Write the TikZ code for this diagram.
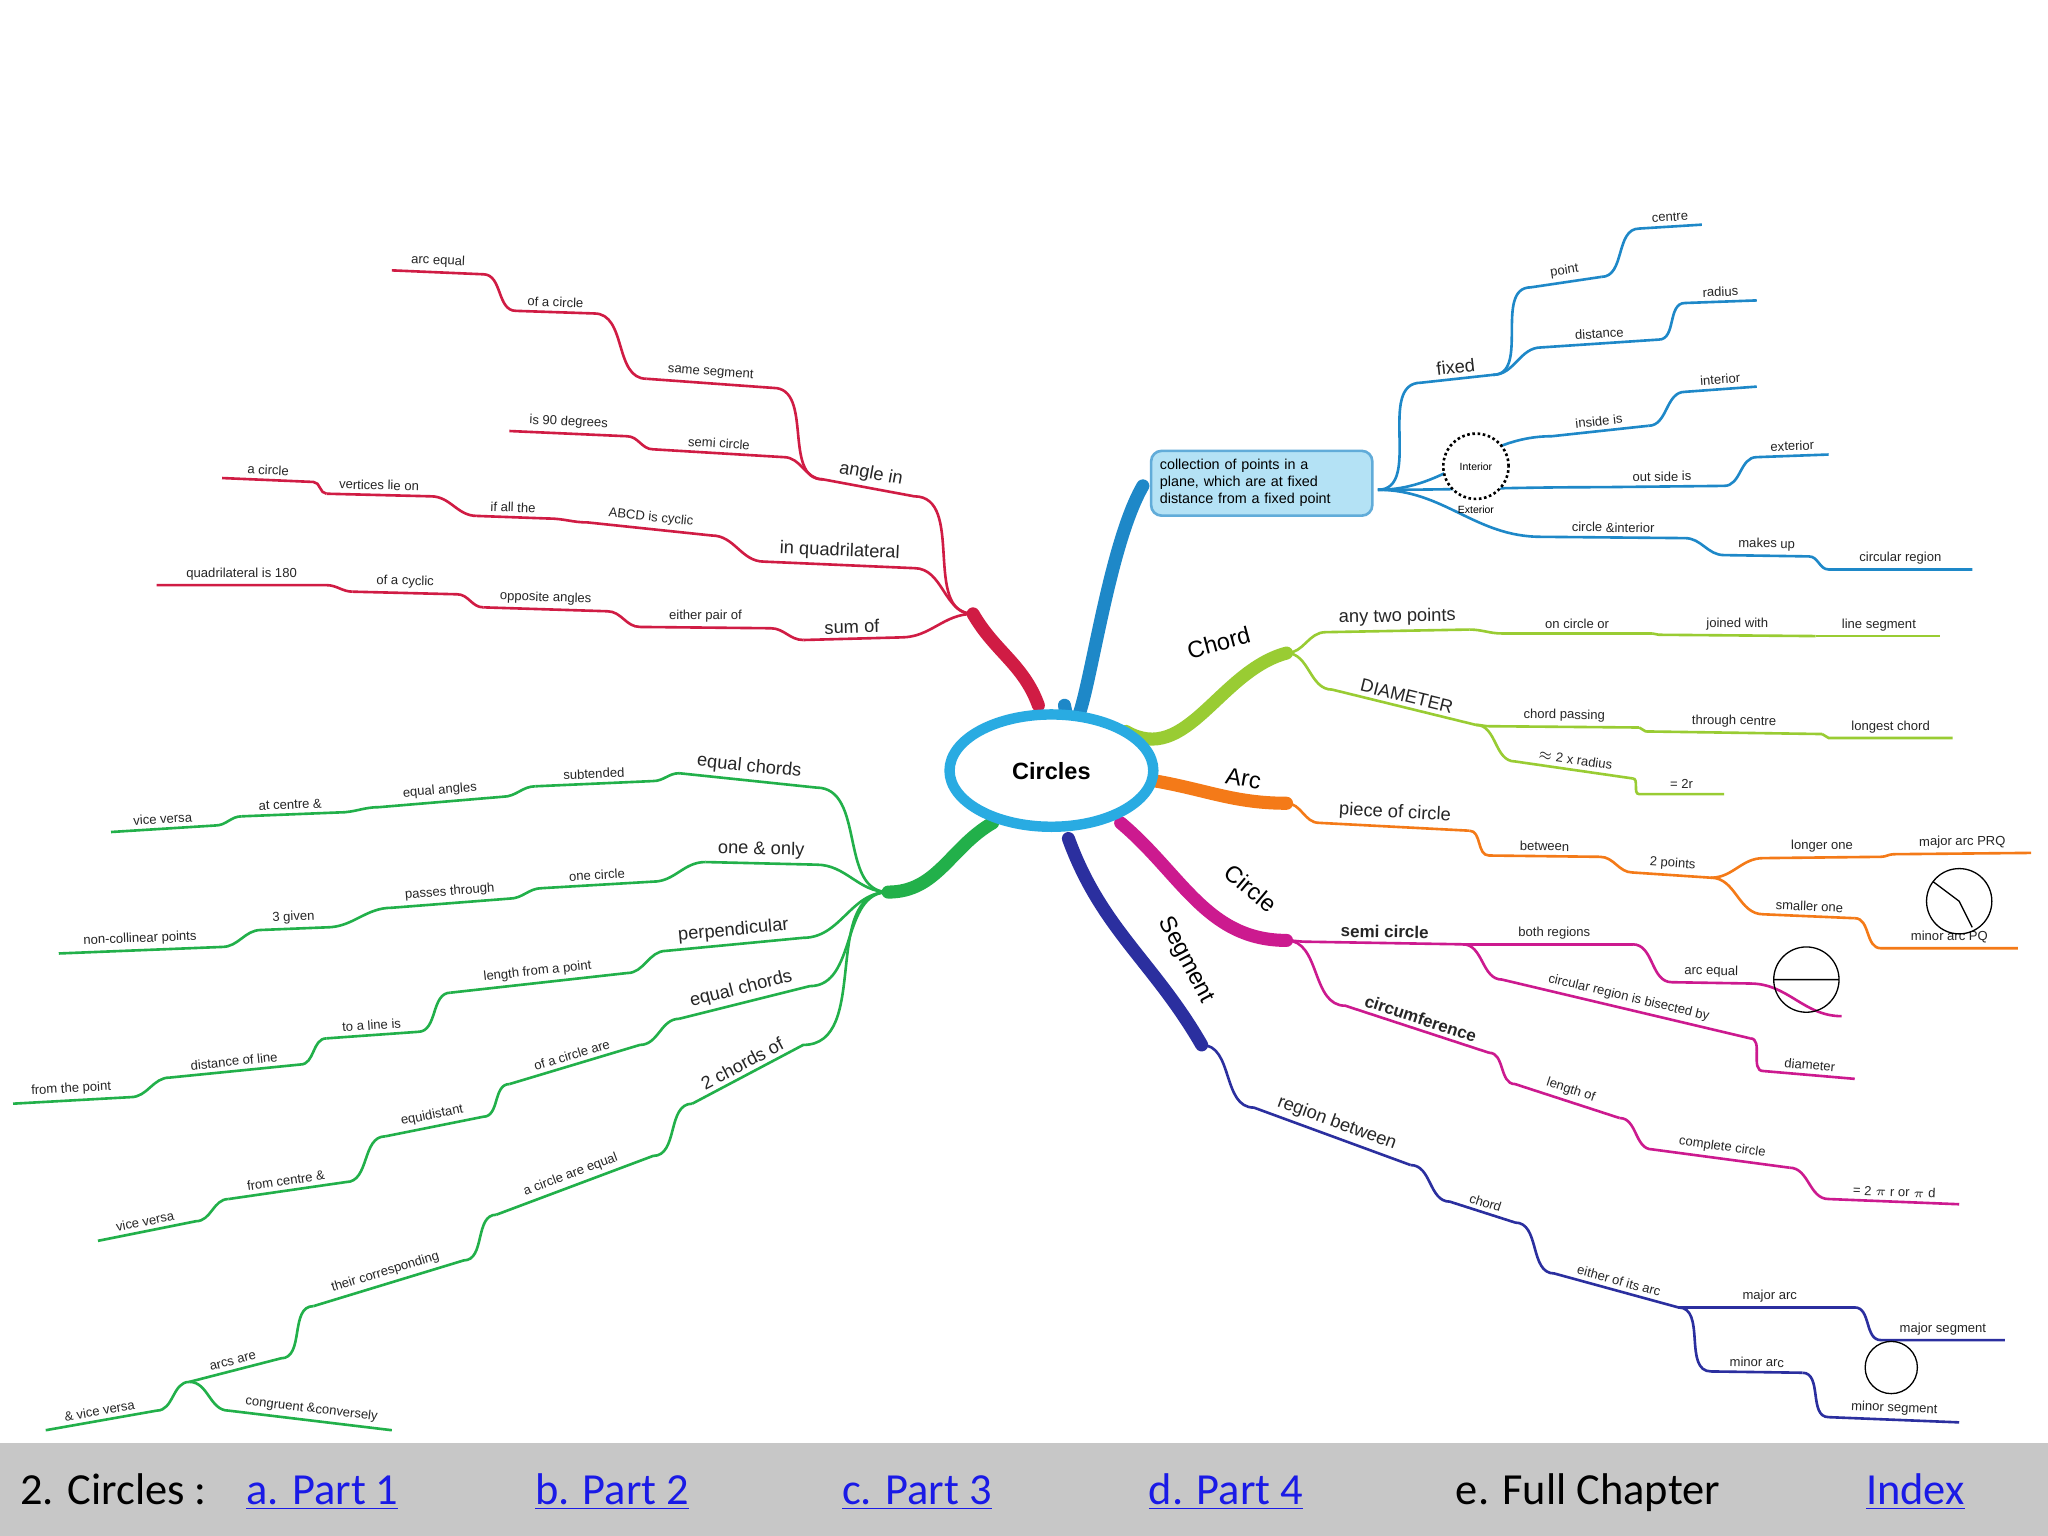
\documentclass[tikz,border=0pt]{standalone}
\usepackage{fontspec}
\setmainfont{Liberation Sans}
\newfontfamily\foot{Carlito}
\usetikzlibrary{calc,shapes.geometric}
\definecolor{cblue}{HTML}{1E88C8}
\definecolor{cgreen}{HTML}{99CC33}
\definecolor{corange}{HTML}{F47A18}
\definecolor{cmag}{HTML}{CC1A8F}
\definecolor{cnavy}{HTML}{2B2F9F}
\definecolor{cred}{HTML}{D01C44}
\definecolor{cgr}{HTML}{22B04A}
\definecolor{ccyan}{HTML}{29ABE2}
\definecolor{lnk}{HTML}{1A1AE6}
\tikzset{lab/.style={above,sloped,inner sep=1.5pt,font=\fontsize{5}{6}\selectfont,text=black!85},
 mid/.style={font=\fontsize{7}{8}\selectfont},
 big/.style={font=\fontsize{9}{10}\selectfont},
 trunk/.style={line width=5pt,line cap=round}}
\newcommand\R[5][]{\draw (#2) to[out=0,in=180] (#3) -- node[lab,#1]{#5} (#4);}
\newcommand\Lf[5][]{\draw (#4) -- node[lab,#1]{#5} (#3) to[out=0,in=180] (#2);}
\begin{document}
\begin{tikzpicture}[x=0.5pt,y=-0.5pt,line width=1pt]
\useasboundingbox (0,0) rectangle (1568,1176);
\fill[white] (0,0) rectangle (1568,1176);
% footer
\fill[black!22] (0,1105) rectangle (1568,1176);
\begin{scope}[font=\foot\fontsize{17}{20}\selectfont,anchor=base west]
\node (f0) at (8,1152) {2. Circles :};
\node[text=lnk] (f1) at (181,1152) {\underline{a. Part 1}};
\node[text=lnk] (f2) at (402,1152) {\underline{b. Part 2}};
\node[text=lnk] (f3) at (637,1152) {\underline{c. Part 3}};
\node[text=lnk] (f4) at (872,1152) {\underline{d. Part 4}};
\node (f5) at (1107,1152) {e. Full Chapter};
\node[text=lnk] (f6) at (1421,1152) {\underline{Index}};
\end{scope}
% trunks
\draw[trunk,cblue] (815,540) to[out=-80,in=-120] (875,372);
\draw[trunk,cgreen] (862,560) to[out=-30,in=195] (985,500);
\draw[trunk,corange] (885,598) to[out=-10,in=180] (985,615);
\draw[trunk,cmag] (858,630) to[out=-40,in=180] (985,720);
\draw[trunk,cnavy] (818,642) to[out=-70,in=120] (920,800);
\draw[trunk,cred] (795,540) to[out=110,in=-60] (745,470);
\draw[trunk,cgr] (760,630) to[out=210,in=0] (680,683);
% center
\node[draw=ccyan,line width=4pt,ellipse,minimum width=78pt,minimum height=43pt,fill=white,font=\bfseries\fontsize{9}{10}\selectfont] (c) at (805,590) {Circles};
% box
\node[draw=cblue!70,fill=ccyan!35,rounded corners=4pt,align=left,font=\fontsize{5.5}{6.5}\selectfont,text width=78pt,line width=1pt] (box) at (966,370) {collection of points in a\\plane, which are at fixed\\distance from a fixed point};
\begin{scope}[draw=cblue]
\R[mid]{1055,375}{1088,293}{1143,287}{fixed}
\R{1143,287}{1172,220}{1226,212}{point}
\R{1226,212}{1255,175}{1303,172}{centre}
\R{1143,287}{1180,266}{1270,260}{distance}
\R{1270,260}{1290,232}{1345,230}{radius}
\R{1055,375}{1188,334}{1262,326}{inside is}
\R{1262,326}{1290,300}{1345,296}{interior}
\R{1055,375}{1225,373}{1320,372}{out side is}
\R{1320,372}{1345,350}{1400,348}{exterior}
\R{1055,375}{1180,411}{1290,412}{circle \&interior}
\R{1290,412}{1320,425}{1385,426}{makes up}
\R{1385,426}{1400,436}{1510,436}{circular region}
\end{scope}
\node[draw,densely dotted,circle,minimum size=25pt,inner sep=0pt,fill=white,font=\fontsize{4}{5}\selectfont] (ic1) at (1130,357) {Interior};
\node[font=\fontsize{4}{5}\selectfont] (ic1b) at (1130,390) {Exterior};
% chord
\node[big,rotate=15] (ch) at (933,492) {Chord};
\begin{scope}[draw=cgreen]
\R[mid]{985,500}{1015,484}{1125,482}{any two points}
\R{1125,482}{1150,485}{1265,485}{on circle or}
\R{1265,485}{1270,486}{1390,487}{joined with}
\R{1390,487}{1392,487}{1485,487}{line segment}
\R[mid]{985,500}{1020,528}{1130,555}{DIAMETER}
\R{1130,555}{1140,556}{1255,557}{chord passing}
\R{1255,557}{1260,560}{1395,562}{through centre}
\R{1395,562}{1400,565}{1495,565}{longest chord}
\R{1130,555}{1160,583}{1250,596}{$\approx$ 2 x radius}
\R{1250,596}{1255,608}{1320,608}{= 2r}
\end{scope}
% arc
\node[big,rotate=-10] (ar) at (952,596) {Arc};
\begin{scope}[draw=corange]
\R[mid]{985,615}{1010,630}{1125,636}{piece of circle}
\R{1125,636}{1140,655}{1225,656}{between}
\R{1225,656}{1250,668}{1310,672}{2 points}
\R{1310,672}{1350,657}{1440,656}{longer one}
\R{1440,656}{1450,654}{1555,653}{major arc PRQ}
\R{1310,672}{1350,700}{1420,703}{smaller one}
\R{1420,703}{1440,726}{1545,726}{minor arc PQ}
\end{scope}
\draw[line width=0.5pt] (1500,690) circle (25) (1500,690) -- (1480,675) (1500,690) -- (1510,710);
% circle
\node[big,rotate=-40] (ci) at (958,680) {Circle};
\begin{scope}[draw=cmag]
\R[mid,font=\bfseries\fontsize{6.5}{7}\selectfont]{985,720}{1000,721}{1120,723}{semi circle}
\R{1120,723}{1130,723}{1250,723}{both regions}
\R{1250,723}{1280,752}{1340,753}{arc equal}
\draw (1340,753) to[out=0,in=180] (1410,778);
\R{1120,723}{1150,750}{1340,795}{circular region is bisected by}
\R{1340,795}{1350,820}{1420,826}{diameter}
\R[mid,font=\bfseries\fontsize{6.5}{7}\selectfont]{985,720}{1030,770}{1140,806}{circumference}
\R{1140,806}{1160,830}{1240,856}{length of}
\R{1240,856}{1265,880}{1370,894}{complete circle}
\R{1370,894}{1400,918}{1500,922}{= 2 $\pi$ r or $\pi$ d}
\end{scope}
\draw[line width=0.5pt] (1383,750) circle (25) (1358,750) -- (1408,750);
% segment
\node[big,rotate=-62] (sg) at (908,735) {Segment};
\begin{scope}[draw=cnavy]
\R[mid]{920,800}{960,848}{1080,892}{region between}
\R{1080,892}{1110,920}{1160,936}{chord}
\R{1160,936}{1190,975}{1285,1001}{either of its arc}
\R{1285,1001}{1290,1001}{1420,1001}{major arc}
\R{1420,1001}{1440,1026}{1535,1026}{major segment}
\R{1285,1001}{1310,1050}{1380,1051}{minor arc}
\R{1380,1051}{1400,1085}{1500,1089}{minor segment}
\end{scope}
\draw[line width=0.5pt] (1448,1047) circle (20);
% left top
\begin{scope}[draw=cred]
\Lf[mid]{745,470}{700,380}{630,367}{angle in}
\Lf{630,367}{592,297}{495,290}{same segment}
\Lf{495,290}{455,240}{395,238}{of a circle}
\Lf{395,238}{370,210}{300,207}{arc equal}
\Lf{630,367}{600,350}{500,344}{semi circle}
\Lf{500,344}{480,334}{390,330}{is 90 degrees}
\Lf[mid]{745,470}{700,435}{585,430}{in quadrilateral}
\Lf{585,430}{545,410}{450,400}{ABCD is cyclic}
\Lf{450,400}{420,397}{365,395}{if all the}
\Lf{365,395}{330,380}{250,378}{vertices lie on}
\Lf{250,378}{240,369}{170,366}{a circle}
\Lf[mid]{745,470}{690,488}{615,490}{sum of}
\Lf{615,490}{590,481}{490,480}{either pair of}
\Lf{490,480}{465,468}{370,465}{opposite angles}
\Lf{370,465}{350,455}{270,453}{of a cyclic}
\Lf{270,453}{250,448}{120,448}{quadrilateral is 180}
\end{scope}
% left bottom
\begin{scope}[draw=cgr]
\Lf[mid]{680,683}{625,603}{520,592}{equal chords}
\Lf{520,592}{500,598}{410,602}{subtended}
\Lf{410,602}{385,610}{290,618}{equal angles}
\Lf{290,618}{260,622}{185,625}{at centre \&}
\Lf{185,625}{165,632}{85,637}{vice versa}
\Lf[mid]{680,683}{625,662}{540,660}{one \& only}
\Lf{540,660}{500,675}{415,680}{one circle}
\Lf{415,680}{390,688}{300,695}{passes through}
\Lf{300,695}{250,710}{200,712}{3 given}
\Lf{200,712}{170,725}{45,730}{non-collinear points}
\Lf[mid]{680,683}{615,718}{510,728}{perpendicular}
\Lf{510,728}{480,745}{345,760}{length from a point}
\Lf{345,760}{320,790}{250,795}{to a line is}
\Lf{250,795}{230,815}{130,825}{distance of line}
\Lf{130,825}{100,840}{10,845}{from the point}
\Lf[mid]{680,683}{620,755}{520,780}{equal chords}
\Lf{520,780}{490,800}{390,830}{of a circle are}
\Lf{390,830}{370,855}{295,870}{equidistant}
\Lf{295,870}{265,905}{175,918}{from centre \&}
\Lf{175,918}{150,935}{75,950}{vice versa}
\Lf[mid]{680,683}{615,800}{530,845}{2 chords of}
\Lf{530,845}{500,885}{380,930}{a circle are equal}
\Lf{380,930}{355,965}{240,1000}{their corresponding}
\Lf{240,1000}{215,1040}{145,1058}{arcs are}
\Lf{145,1058}{120,1080}{35,1095}{\& vice versa}
\R{145,1058}{175,1080}{300,1095}{congruent \&conversely}
\end{scope}
\end{tikzpicture}
\end{document}
